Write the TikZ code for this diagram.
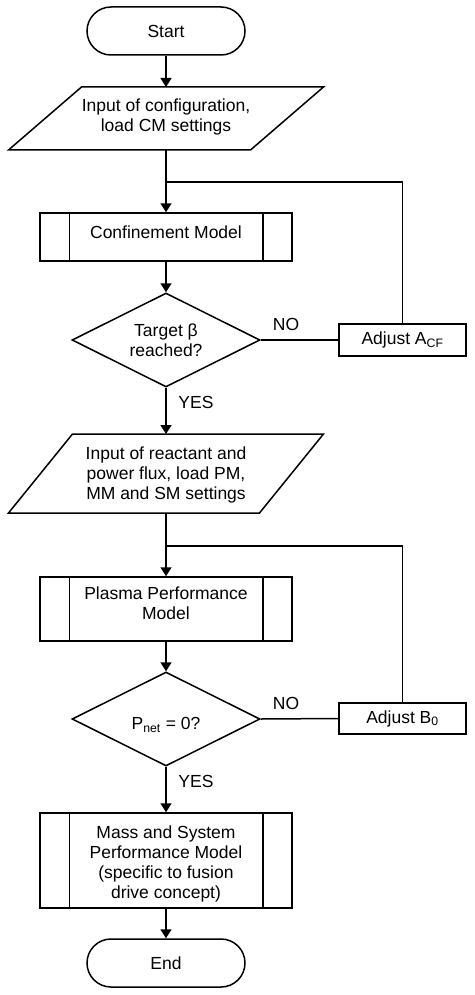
\documentclass[tikz,border=0pt]{standalone}
\usepackage{fontspec}
\setmainfont{Liberation Sans}
\usetikzlibrary{shapes.geometric,arrows.meta,calc}
\begin{document}
\begin{tikzpicture}[x=1pt,y=-1pt,
  every node/.style={font=\fontsize{17.5}{20}\selectfont},
  lw/.style={line width=1.5pt},
  term/.style={lw, draw, rounded corners=24pt, minimum width=158pt, minimum height=48pt, inner sep=0pt},
  io/.style={minimum width=315pt, inner sep=0pt, outer sep=0pt},
  proc/.style={lw, draw, minimum width=252pt, inner sep=0pt},
  txt/.style={align=center, inner sep=0pt},
  dec/.style={lw, draw, diamond, aspect=2, minimum width=188pt, minimum height=94pt, inner sep=0pt, align=center},
  adj/.style={lw, draw, minimum width=127pt, minimum height=32pt, inner sep=0pt},
  lab/.style={inner sep=0pt},
  arr/.style={lw, -{Triangle[length=9pt,width=11pt]}},
  con/.style={lw},
]
\useasboundingbox (0,0) rectangle (474,995);

% Start
\node[term] (start) at (166,31) {Start};

% Input 1
\node[io, minimum height=63pt] (in1) at (166,118.5) {};
\draw[lw] ($(in1.north west)+(73,0)$) -- (in1.north east) -- ($(in1.south east)+(-73,0)$) -- (in1.south west) -- cycle;
\node[txt] (in1t) at (166,117) {Input of configuration,\\load CM settings};

% Confinement model
\node[proc, minimum height=48pt] (cm) at (166,237) {};
\draw[lw] ($(cm.north west)+(30,0)$) -- ($(cm.south west)+(30,0)$);
\draw[lw] ($(cm.north east)+(-30,0)$) -- ($(cm.south east)+(-30,0)$);
\node[txt] (cmt) at (166,232) {Confinement Model};

% Decision 1
\node[dec] (d1) at (166,340) {Target β\\reached?};
\node[adj] (acf) at (402.5,340) {Adjust A\textsubscript{CF}};
\node[lab] (no1) at (286,324) {NO};
\node[lab] (yes1) at (196,402) {YES};

% Input 2
\node[io, minimum height=79pt] (in2) at (166,473.5) {};
\draw[lw] ($(in2.north west)+(64,0)$) -- (in2.north east) -- ($(in2.south east)+(-64,0)$) -- (in2.south west) -- cycle;
\node[txt] (in2t) at (166,474.5) {Input of reactant and\\power flux, load PM,\\MM and SM settings};

% Plasma performance model
\node[proc, minimum height=64pt] (pp) at (166,609) {};
\draw[lw] ($(pp.north west)+(30,0)$) -- ($(pp.south west)+(30,0)$);
\draw[lw] ($(pp.north east)+(-30,0)$) -- ($(pp.south east)+(-30,0)$);
\node[txt] (ppt) at (166,603.5) {Plasma Performance\\Model};

% Decision 2
\node[dec] (d2) at (166,719) {};
\node[txt] (d2t) at (166,725) {P\textsubscript{net} = 0?};
\node[adj, minimum height=31pt] (b0) at (402.5,718.5) {Adjust B\textsubscript{0}};
\node[lab] (no2) at (286,703.5) {NO};
\node[lab] (yes2) at (196,781.5) {YES};

% Mass and system model
\node[proc, minimum height=95pt] (ms) at (166,860.5) {};
\draw[lw] ($(ms.north west)+(30,0)$) -- ($(ms.south west)+(30,0)$);
\draw[lw] ($(ms.north east)+(-30,0)$) -- ($(ms.south east)+(-30,0)$);
\node[txt] (mst) at (166,863.5) {Mass and System\\Performance Model\\(specific to fusion\\drive concept)};

% End
\node[term] (end) at (166,963) {End};

% Connectors
\coordinate (j1) at (166,182);
\coordinate (j2) at (166,546);
\draw[arr] (start.south) -- (in1.north);
\draw[con] (in1.south) -- (j1);
\draw[arr] (j1) -- (cm.north);
\draw[arr] (cm.south) -- (d1.north);
\draw[con] (d1.east) -- (acf.west);
\draw[con] (acf.north) |- (j1);
\draw[arr] (d1.south) -- (in2.north);
\draw[con] (in2.south) -- (j2);
\draw[arr] (j2) -- (pp.north);
\draw[arr] (pp.south) -- (d2.north);
\draw[con] (d2.east) -- (b0.west);
\draw[con] (b0.north) |- (j2);
\draw[arr] (d2.south) -- (ms.north);
\draw[arr] (ms.south) -- (end.north);
\end{tikzpicture}
\end{document}
